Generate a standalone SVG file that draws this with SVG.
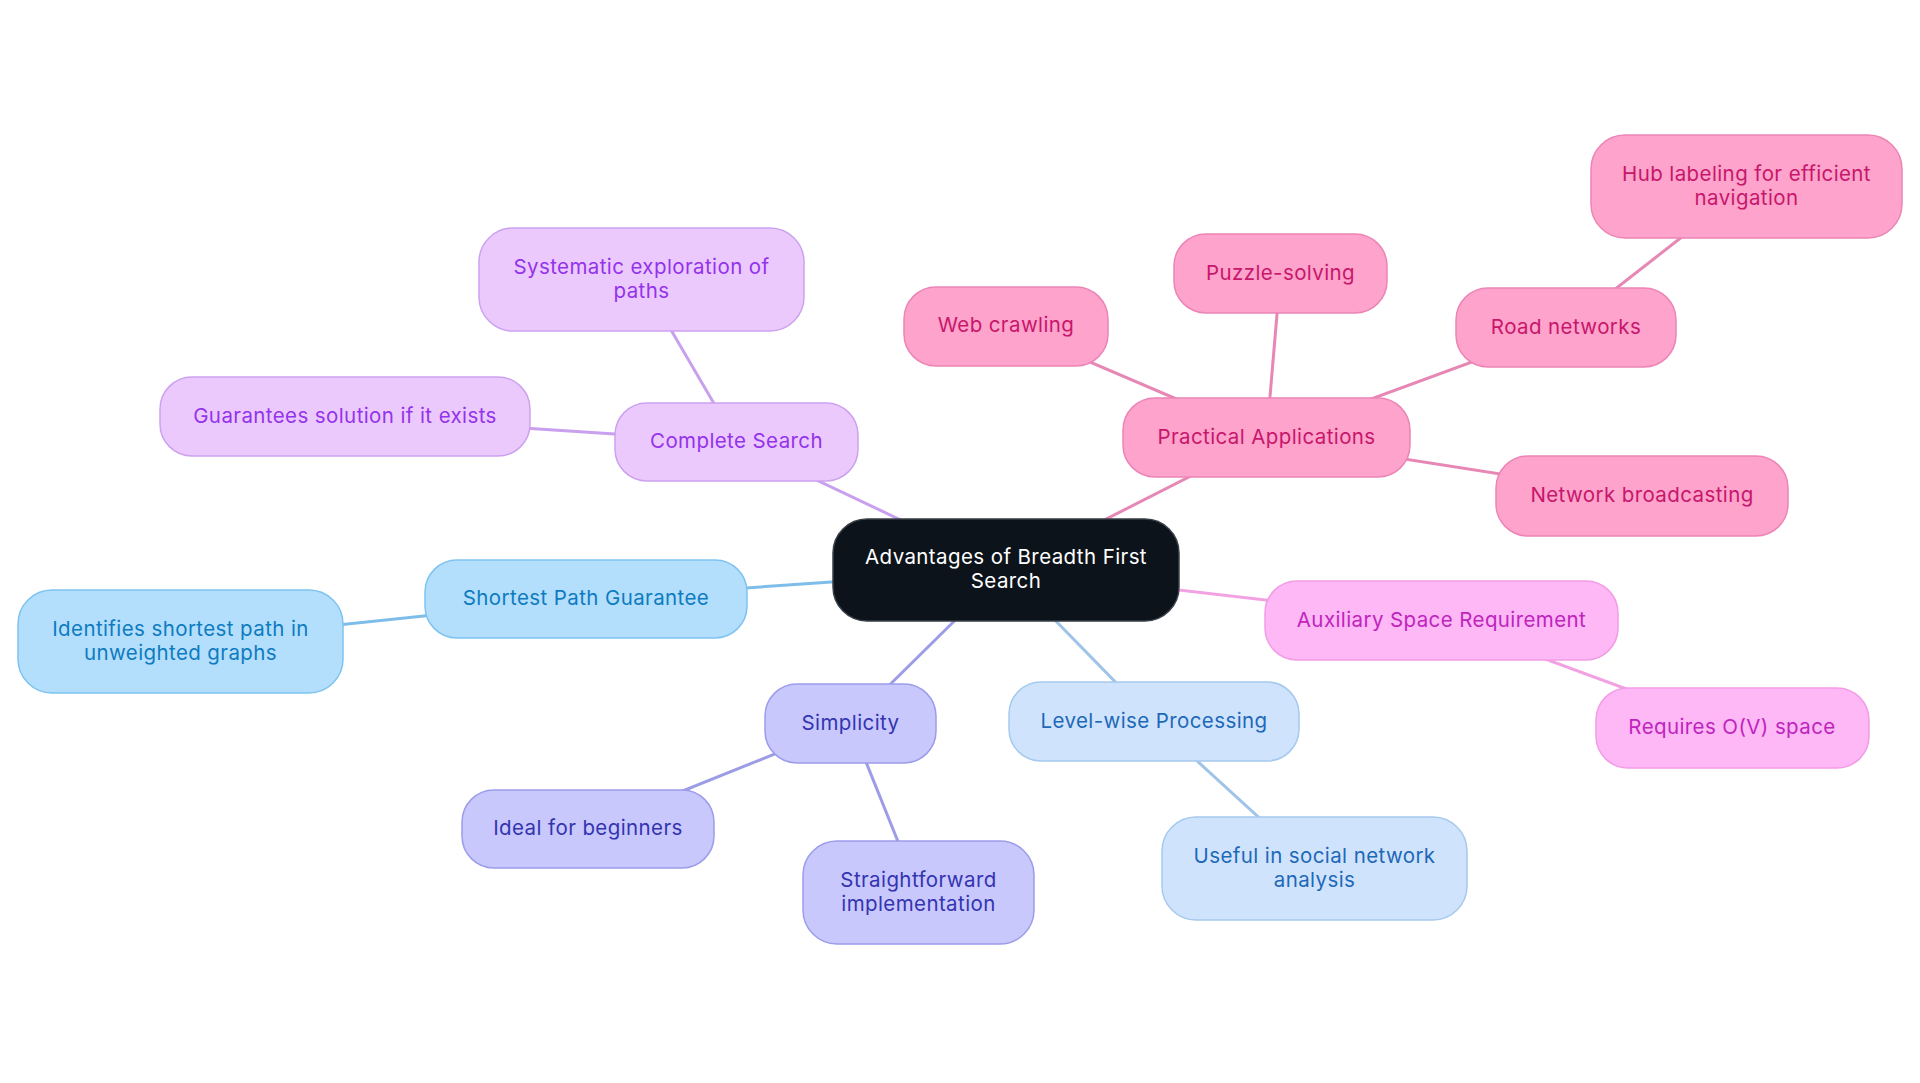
<svg xmlns="http://www.w3.org/2000/svg" width="1920" height="1083" viewBox="0 0 1920 1083">
<style>
text{font-family:Inter,"Noto Sans","Liberation Sans",sans-serif;font-size:20.5px;letter-spacing:0.4px;text-anchor:middle}
.c line{stroke-width:3;fill:none}
.root rect{fill:#0c131a;stroke:#3a4048;stroke-width:1.5}
.root text{fill:#ffffff}
.pu rect{fill:#ecc9fd;stroke:#cca2ef;stroke-width:1.5}
.pu text{fill:#9333ea}
.bl rect{fill:#b3dffd;stroke:#7ec3ef;stroke-width:1.5}
.bl text{fill:#0e7bc0}
.in rect{fill:#c8c8fd;stroke:#9c9ceb;stroke-width:1.5}
.in text{fill:#3434b0}
.lb rect{fill:#cfe4fc;stroke:#a6c9ee;stroke-width:1.5}
.lb text{fill:#1e68b8}
.pk rect{fill:#fda3cc;stroke:#ec85b6;stroke-width:1.5}
.pk text{fill:#c8166b}
.mg rect{fill:#fdb8f5;stroke:#f29ce6;stroke-width:1.5}
.mg text{fill:#c024be}
</style>
<rect width="1920" height="1083" fill="#ffffff"/>
<g id="connectors" class="c">
<line x1="1006" y1="570" x2="736.5" y2="442" stroke="#c9a0ee"/>
<line x1="736.5" y1="442" x2="641.5" y2="279.5" stroke="#c9a0ee"/>
<line x1="736.5" y1="442" x2="345" y2="416.5" stroke="#c9a0ee"/>
<line x1="1006" y1="570" x2="586" y2="599" stroke="#7ebde9"/>
<line x1="586" y1="599" x2="180.5" y2="641.5" stroke="#7ebde9"/>
<line x1="1006" y1="570" x2="850.5" y2="723.5" stroke="#9c9de6"/>
<line x1="850.5" y1="723.5" x2="588" y2="829" stroke="#9c9de6"/>
<line x1="850.5" y1="723.5" x2="918.5" y2="892.5" stroke="#9c9de6"/>
<line x1="1006" y1="570" x2="1154" y2="721.5" stroke="#a0c4e8"/>
<line x1="1154" y1="721.5" x2="1314.5" y2="868.5" stroke="#a0c4e8"/>
<line x1="1006" y1="570" x2="1266.5" y2="437.5" stroke="#e687b5"/>
<line x1="1266.5" y1="437.5" x2="1006" y2="326" stroke="#e687b5"/>
<line x1="1266.5" y1="437.5" x2="1280.5" y2="273.5" stroke="#e687b5"/>
<line x1="1266.5" y1="437.5" x2="1566" y2="327.5" stroke="#e687b5"/>
<line x1="1566" y1="327.5" x2="1746.5" y2="186.5" stroke="#e687b5"/>
<line x1="1266.5" y1="437.5" x2="1642" y2="496" stroke="#e687b5"/>
<line x1="1006" y1="570" x2="1441.5" y2="620.5" stroke="#f2a2e2"/>
<line x1="1441.5" y1="620.5" x2="1732" y2="728" stroke="#f2a2e2"/>
</g>
<g id="root" class="root">
<rect x="833" y="519" width="346" height="102" rx="34"/>
<text x="1006" y="564">Advantages of Breadth First</text>
<text x="1006" y="588">Search</text>
</g>
<g id="complete" class="pu">
<rect x="615" y="403" width="243" height="78" rx="32"/>
<text x="736.5" y="448">Complete Search</text>
</g>
<g id="systematic" class="pu">
<rect x="479" y="228" width="325" height="103" rx="34"/>
<text x="641.5" y="273.5">Systematic exploration of</text>
<text x="641.5" y="297.5">paths</text>
</g>
<g id="guarantees" class="pu">
<rect x="160" y="377" width="370" height="79" rx="32"/>
<text x="345" y="422.5">Guarantees solution if it exists</text>
</g>
<g id="shortest" class="bl">
<rect x="425" y="560" width="322" height="78" rx="32"/>
<text x="586" y="605">Shortest Path Guarantee</text>
</g>
<g id="identifies" class="bl">
<rect x="18" y="590" width="325" height="103" rx="34"/>
<text x="180.5" y="635.5">Identifies shortest path in</text>
<text x="180.5" y="659.5">unweighted graphs</text>
</g>
<g id="simplicity" class="in">
<rect x="765" y="684" width="171" height="79" rx="32"/>
<text x="850.5" y="729.5">Simplicity</text>
</g>
<g id="ideal" class="in">
<rect x="462" y="790" width="252" height="78" rx="32"/>
<text x="588" y="835">Ideal for beginners</text>
</g>
<g id="straightforward" class="in">
<rect x="803" y="841" width="231" height="103" rx="34"/>
<text x="918.5" y="886.5">Straightforward</text>
<text x="918.5" y="910.5">implementation</text>
</g>
<g id="levelwise" class="lb">
<rect x="1009" y="682" width="290" height="79" rx="32"/>
<text x="1154" y="727.5">Level-wise Processing</text>
</g>
<g id="useful" class="lb">
<rect x="1162" y="817" width="305" height="103" rx="34"/>
<text x="1314.5" y="862.5">Useful in social network</text>
<text x="1314.5" y="886.5">analysis</text>
</g>
<g id="practical" class="pk">
<rect x="1123" y="398" width="287" height="79" rx="32"/>
<text x="1266.5" y="443.5">Practical Applications</text>
</g>
<g id="web" class="pk">
<rect x="904" y="287" width="204" height="79" rx="32"/>
<text x="1006" y="332">Web crawling</text>
</g>
<g id="puzzle" class="pk">
<rect x="1174" y="234" width="213" height="79" rx="32"/>
<text x="1280.5" y="279.5">Puzzle-solving</text>
</g>
<g id="road" class="pk">
<rect x="1456" y="288" width="220" height="79" rx="32"/>
<text x="1566" y="333.5">Road networks</text>
</g>
<g id="hub" class="pk">
<rect x="1591" y="135" width="311" height="103" rx="34"/>
<text x="1746.5" y="180.5">Hub labeling for efficient</text>
<text x="1746.5" y="204.5">navigation</text>
</g>
<g id="broadcasting" class="pk">
<rect x="1496" y="456" width="292" height="80" rx="32"/>
<text x="1642" y="502">Network broadcasting</text>
</g>
<g id="auxiliary" class="mg">
<rect x="1265" y="581" width="353" height="79" rx="32"/>
<text x="1441.5" y="626.5">Auxiliary Space Requirement</text>
</g>
<g id="requires" class="mg">
<rect x="1596" y="688" width="273" height="80" rx="32"/>
<text x="1732" y="734">Requires O(V) space</text>
</g>
</svg>
